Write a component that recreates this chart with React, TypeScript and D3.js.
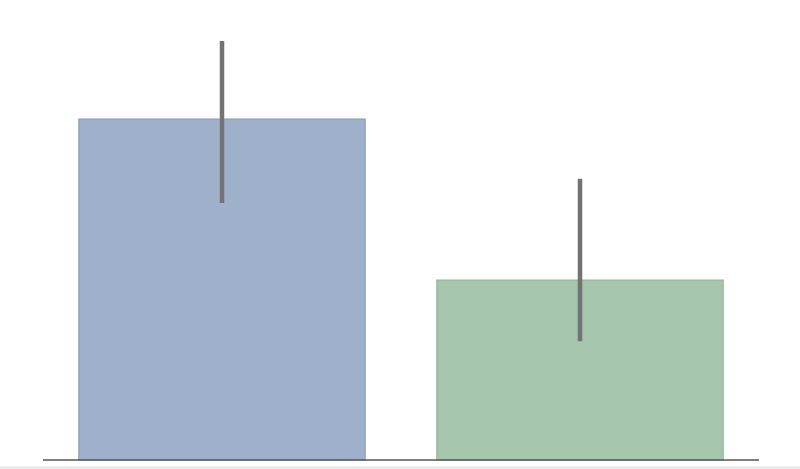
import * as d3 from "d3";

const WIDTH = 800;
const HEIGHT = 469;
const MARGIN = { top: 20, right: 41, bottom: 9, left: 43 };

// two groups, mean with confidence interval
const categories = ["A", "B"];
const means = [0.775, 0.409];
const ciLow = [0.584, 0.27];
const ciHigh = [0.952, 0.639];
const colors = ["#9fb0cb", "#a5c6ad"];
const edgeColors = ["#8a98b0", "#8fae97"];

export default function App() {
  const boundsWidth = WIDTH - MARGIN.left - MARGIN.right;
  const boundsHeight = HEIGHT - MARGIN.top - MARGIN.bottom;

  const xScale = d3
    .scaleBand<string>()
    .domain(categories)
    .range([0, boundsWidth])
    .paddingInner(0.2)
    .paddingOuter(0.1);

  const yScale = d3.scaleLinear().domain([0, 1]).range([boundsHeight, 0]);

  return (
    <svg
      width={WIDTH}
      height={HEIGHT}
      style={{ position: "absolute", left: 0, top: 0, background: "#fff" }}
    >
      <line x1={0} x2={WIDTH} y1={467.5} y2={467.5} stroke="#e4e4e4" strokeWidth={2} />
      <g transform={`translate(${MARGIN.left},${MARGIN.top})`}>
        {categories.map((c, i) => (
          <rect
            key={c}
            x={xScale(c)!}
            y={yScale(means[i])}
            width={xScale.bandwidth()}
            height={boundsHeight - yScale(means[i])}
            fill={colors[i]}
            stroke={edgeColors[i]}
            strokeWidth={1}
          />
        ))}
        {categories.map((c, i) => {
          const cx = xScale(c)! + xScale.bandwidth() / 2;
          return (
            <line
              key={c + "-err"}
              x1={cx}
              x2={cx}
              y1={yScale(ciLow[i])}
              y2={yScale(ciHigh[i])}
              stroke="#737373"
              strokeWidth={4.5}
            />
          );
        })}
        {/* bottom spine */}
        <line
          x1={0}
          x2={boundsWidth}
          y1={boundsHeight}
          y2={boundsHeight}
          stroke="#555"
          strokeWidth={1.5}
        />
      </g>
    </svg>
  );
}
